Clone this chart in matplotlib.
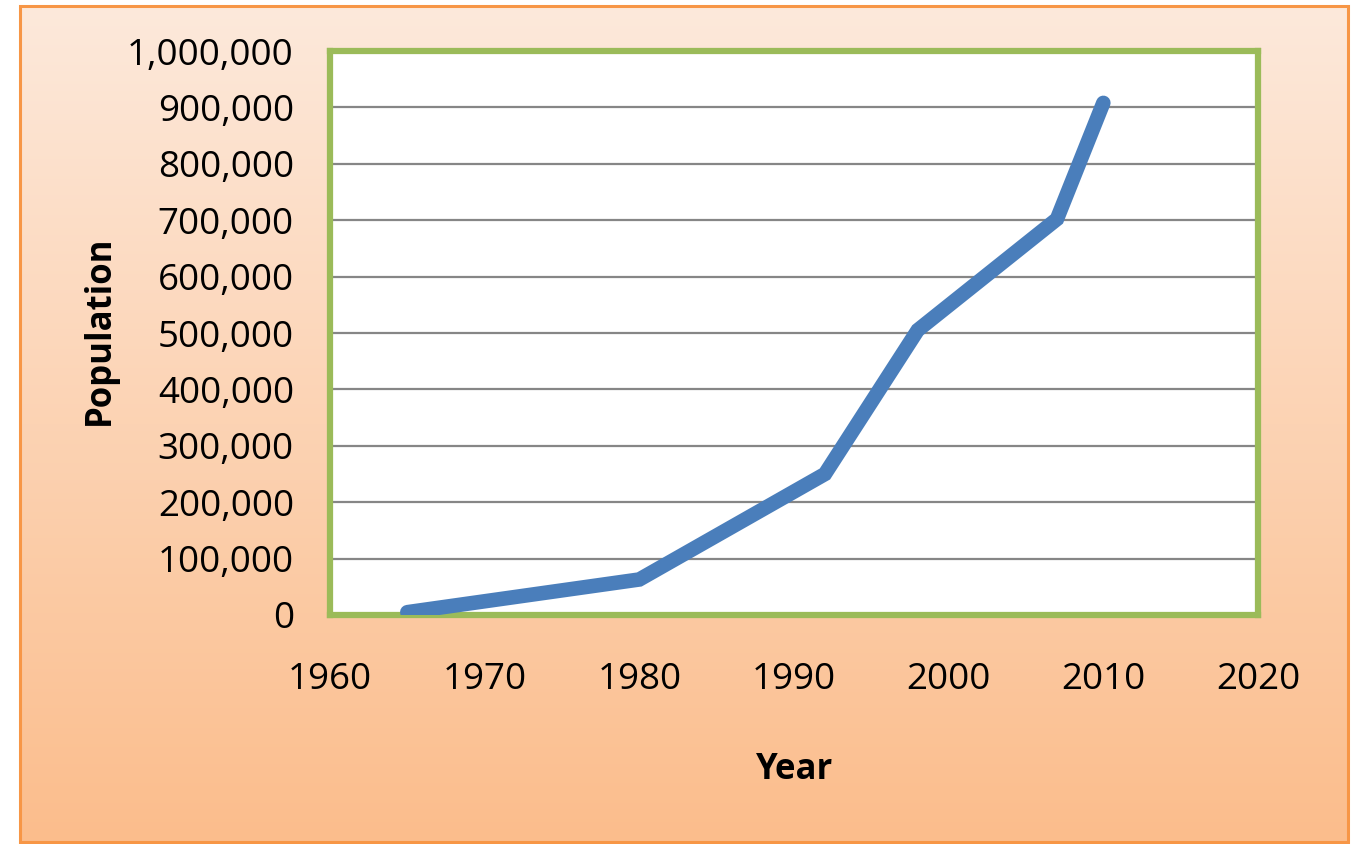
import numpy as np
import matplotlib
matplotlib.use("Agg")
import matplotlib.pyplot as plt
from matplotlib.ticker import FuncFormatter, MultipleLocator
from matplotlib.colors import LinearSegmentedColormap
from matplotlib.patches import Rectangle

years = [1965, 1980, 1992, 1998, 2007, 2010]
population = [5000, 63000, 250000, 505000, 702000, 908000]
x_ticks = [1960, 1970, 1980, 1990, 2000, 2010, 2020]

W, H = 1366, 844
fig = plt.figure(figsize=(W / 100, H / 100), dpi=100)
fig.patch.set_facecolor("white")

# background gradient panel
bg = fig.add_axes([0, 0, 1, 1], zorder=-5)
bg.set_xlim(0, W)
bg.set_ylim(H, 0)
bg.axis("off")
cmap = LinearSegmentedColormap.from_list("g", ["#FDE9DB", "#FBBD8C"])
grad = np.linspace(0, 1, 256).reshape(-1, 1)
bg.imshow(grad, cmap=cmap, extent=(20, 1348, 842, 6), aspect="auto", zorder=0)
bg.add_patch(Rectangle((20, 6), 1328, 836, fill=False, edgecolor="#F79646", lw=2.2, zorder=2))

fam = ["Open Sans", "DejaVu Sans"]
ax = fig.add_axes([330 / W, 1 - 615 / H, 928 / W, 564 / H])
ax.set_facecolor("white")
ax.plot(years, population, color="#4A7EBB", lw=10.5, solid_capstyle="round",
        solid_joinstyle="miter", zorder=3)
ax.set_xlim(1960, 2020)
ax.set_ylim(0, 1000000)
ax.set_xticks(x_ticks)
ax.yaxis.set_major_locator(MultipleLocator(100000))
ax.yaxis.set_major_formatter(FuncFormatter(lambda v, p: f"{int(v):,}"))
ax.grid(axis="y", color="#868686", lw=1.6)
ax.set_axisbelow(True)
for s in ax.spines.values():
    s.set_color("#9BBB59")
    s.set_linewidth(4.5)
ax.tick_params(axis="both", length=0, labelsize=26.5)
ax.tick_params(axis="y", pad=26)
ax.tick_params(axis="x", pad=34)
for lab in ax.get_xticklabels() + ax.get_yticklabels():
    lab.set_family(fam)

fig.text(100 / W, 1 - 330 / H, "Population", rotation=90, ha="center", va="center",
         fontsize=25, fontweight="bold", family=fam)
fig.text(795 / W, 1 - 770 / H, "Year", ha="center", va="center",
         fontsize=25, fontweight="bold", family=fam)

fig.savefig("out.png", dpi=100)
